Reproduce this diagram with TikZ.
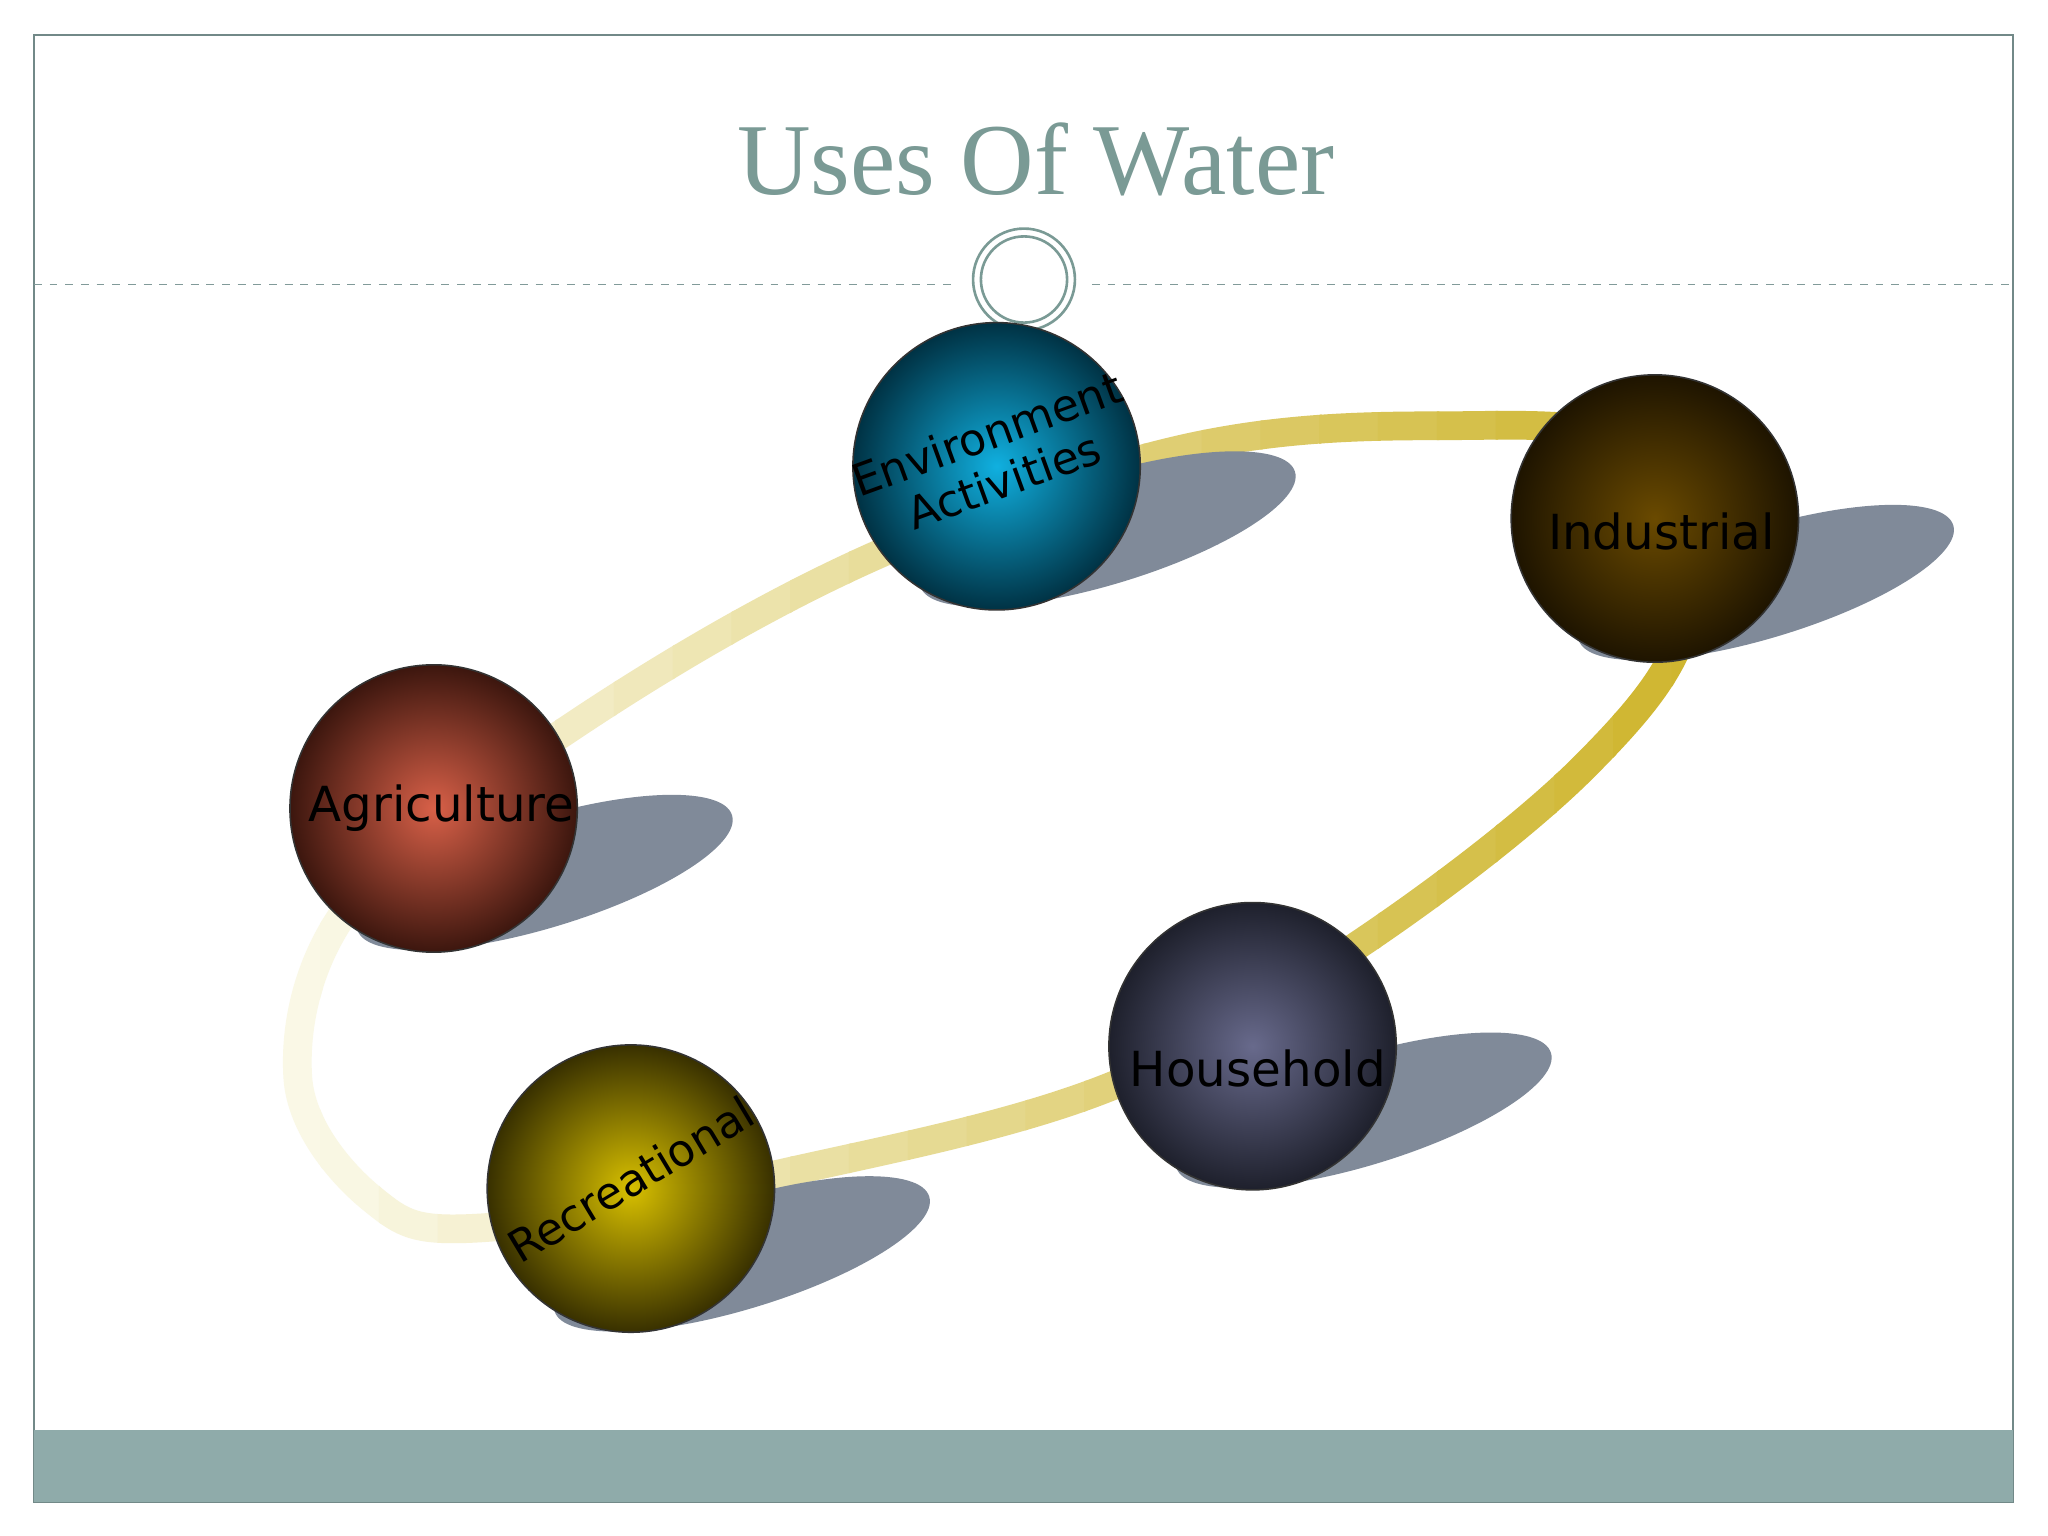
\documentclass[tikz,border=0pt]{standalone}
\usepackage{fontspec}
\setsansfont{DejaVu Sans}
\setmainfont{Liberation Serif}
\usetikzlibrary{shapes.geometric}
\definecolor{teal}{HTML}{8FABAA}
\definecolor{titlec}{HTML}{7A9A95}
\definecolor{pale}{HTML}{FAF8E6}
\definecolor{gold}{HTML}{CFB630}
\definecolor{shad}{HTML}{808A99}
\tikzset{
  shadowell/.style={ellipse, fill=shad, draw=none, minimum width=150pt, minimum height=42pt, rotate=17},
  sphere/.style={circle, minimum size=110pt, draw=black!80, line width=0.6pt, inner sep=0pt},
  lbl/.style={font=\sffamily\fontsize{18.5}{21}\selectfont, align=center, inner sep=0pt},
  rlbl/.style={font=\sffamily\fontsize{17}{19}\selectfont, align=center, inner sep=0pt}
}
\newcommand{\ringpath}{plot[smooth cycle, tension=0.6] coordinates {(370,940) (600,898) (850,832) (1045,720) (1215,585) (1292,470) (1262,345) (1100,326) (900,345) (660,430) (440,555) (270,690) (228,825) (285,918)}}
\begin{document}
\begin{tikzpicture}[x=0.5pt,y=-0.5pt]
\useasboundingbox (0,0) rectangle (1568,1176);
\fill[white] (0,0) rectangle (1568,1176);
\draw[teal!80!black, line width=0.6pt] (26,27) rectangle (1541,1150);
\fill[teal] (26,1095) rectangle (1541,1150);
\node[font=\fontsize{39}{44}\selectfont, text=titlec] (title) at (793,122) {Uses Of Water};
\draw[teal!90!black, dashed, line width=0.5pt] (26,218) -- (732,218);
\draw[teal!90!black, dashed, line width=0.5pt] (836,218) -- (1541,218);
\node[circle, draw=titlec, line width=1pt, minimum size=39pt, inner sep=0pt, fill=white] (oc) at (784,214) {};
\node[circle, draw=titlec, line width=1pt, minimum size=33pt, inner sep=0pt] (ic) at (784,214) {};
% ring
\foreach \i in {0,...,27}{
  \pgfmathsetmacro{\xa}{200+\i*45}
  \pgfmathsetmacro{\pp}{min(100,max(0,(\xa-230)/10.2))}
  \begin{scope}
    \clip (\xa,250) rectangle ({\xa+47},1000);
    \draw[line width=11pt, color=gold!\pp!pale] \ringpath;
  \end{scope}
}
% shadows
\node[shadowell] (s1) at (848,405) {};
\node[shadowell] (s2) at (1352,446) {};
\node[shadowell] (s3) at (417,668) {};
\node[shadowell] (s4) at (1044,850) {};
\node[shadowell] (s5) at (568,960) {};
% spheres
\shade[inner color={rgb,255:red,16;green,176;blue,224}, outer color={rgb,255:red,0;green,50;blue,68}] (763,357) circle (110);
\shade[inner color={rgb,255:red,106;green,74;blue,0}, outer color={rgb,255:red,30;green,20;blue,0}] (1267,397) circle (110);
\shade[inner color={rgb,255:red,216;green,96;blue,72}, outer color={rgb,255:red,60;green,22;blue,14}] (332,619) circle (110);
\shade[inner color={rgb,255:red,104;green,106;blue,140}, outer color={rgb,255:red,30;green,32;blue,44}] (959,801) circle (110);
\shade[inner color={rgb,255:red,216;green,192;blue,0}, outer color={rgb,255:red,56;green,48;blue,0}] (483,910) circle (110);
\node[sphere] (env) at (763,357) {};
\node[sphere] (ind) at (1267,397) {};
\node[sphere] (agr) at (332,619) {};
\node[sphere] (hou) at (959,801) {};
\node[sphere] (rec) at (483,910) {};
\node[rlbl, rotate=20] (envt) at (762,350) {Environment\\Activities};
\node[lbl] (indt) at (1272,407) {Industrial};
\node[lbl] (agrt) at (338,619) {Agriculture};
\node[lbl] (hout) at (963,818) {Household};
\node[rlbl, rotate=31] (rect) at (483,903) {Recreational};
\end{tikzpicture}
\end{document}
